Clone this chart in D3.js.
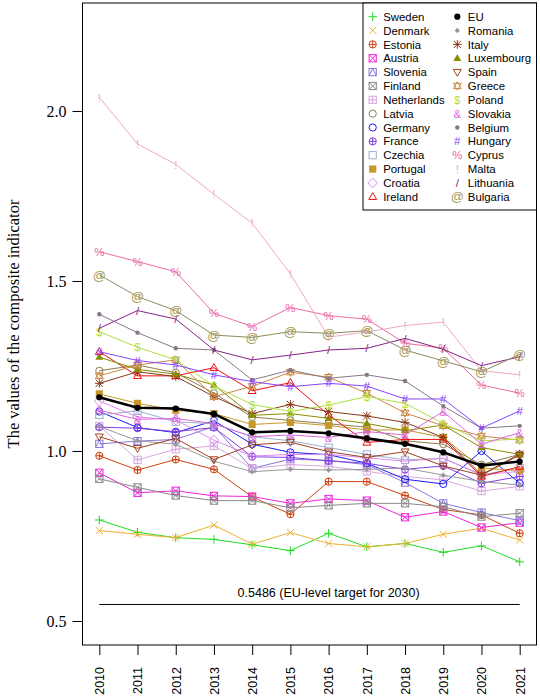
<!DOCTYPE html>
<html><head><meta charset="utf-8">
<script src="https://cdn.jsdelivr.net/npm/d3@7"></script>
<style>body{margin:0;background:#fff}svg{display:block}</style>
</head><body><svg id="c" width="540" height="700"></svg>
<script>
const years = [2010,2011,2012,2013,2014,2015,2016,2017,2018,2019,2020,2021];
const yTicks = [0.5,1.0,1.5,2.0];
const target = 0.5486;
const targetLabel = "0.5486 (EU-level target for 2030)";
const yTitle = "The values of the composite indicator";

const countries = ["Sweden","Denmark","Estonia","Austria","Slovenia","Finland","Netherlands","Latvia","Germany","France","Czechia","Portugal","Croatia","Ireland",
  "EU","Romania","Italy","Luxembourg","Spain","Greece","Poland","Slovakia","Belgium","Hungary","Cyprus","Malta","Lithuania","Bulgaria"];

const Sweden      = [0.797,0.761,0.745,0.740,0.724,0.707,0.758,0.718,0.728,0.702,0.721,0.674];
const Denmark     = [0.766,0.755,0.745,0.782,0.726,0.760,0.728,0.718,0.728,0.755,0.773,0.738];
const Estonia     = [0.986,0.944,0.975,0.946,0.865,0.814,0.910,0.910,0.869,0.828,0.812,0.758];
const Austria     = [0.936,0.877,0.883,0.868,0.866,0.846,0.859,0.854,0.805,0.822,0.775,0.789];
const Slovenia    = [1.021,1.029,1.034,1.072,0.949,0.976,0.972,0.960,0.907,0.846,0.819,0.795];
const Finland     = [0.918,0.893,0.869,0.854,0.854,0.833,0.840,0.846,0.846,0.836,0.807,0.817];
const Netherlands = [1.074,0.974,1.005,1.015,0.949,0.960,0.955,0.940,0.925,0.915,0.882,0.896];
const Latvia      = [1.236,1.253,1.230,1.170,1.100,1.090,1.080,1.070,1.030,1.020,0.960,0.990];
const Germany     = [1.116,1.069,1.054,1.089,1.020,0.996,0.989,0.964,0.917,0.903,1.000,0.905];
const France      = [1.070,1.067,1.057,1.069,0.983,0.981,0.971,0.964,0.946,0.956,0.905,0.925];
const Czechia     = [1.106,1.118,1.086,1.080,1.042,1.030,1.010,0.990,0.974,0.978,0.930,0.950];
const Portugal    = [1.168,1.140,1.120,1.110,1.078,1.084,1.075,1.062,1.062,1.040,0.950,0.942];
const Croatia     = [1.147,1.100,1.091,1.032,0.985,0.990,0.990,0.980,0.970,0.979,0.930,0.940];
const Ireland     = [1.292,1.221,1.221,1.245,1.177,1.201,1.106,1.025,1.034,1.034,0.925,0.954];
const EU          = [1.158,1.127,1.125,1.109,1.055,1.059,1.052,1.037,1.021,0.996,0.957,0.969];
const Romania     = [1.072,1.030,1.020,0.970,0.939,0.946,0.944,0.946,0.950,0.929,0.910,0.900];
const Italy       = [1.199,1.233,1.219,1.160,1.110,1.137,1.116,1.103,1.084,1.040,0.930,0.991];
const Luxembourg  = [1.276,1.240,1.226,1.194,1.105,1.110,1.096,1.081,1.060,1.076,1.010,0.990];
const Spain       = [1.042,1.008,1.037,0.975,1.018,1.026,0.998,0.981,0.998,0.956,0.929,0.988];
const Greece      = [1.221,1.253,1.268,1.160,1.190,1.232,1.217,1.170,1.112,1.074,1.044,1.032];
const Poland      = [1.351,1.305,1.268,1.191,1.137,1.116,1.135,1.160,1.140,1.081,1.030,1.035];
const Slovakia    = [1.120,1.093,1.096,1.080,1.042,1.047,1.040,1.057,1.047,1.116,1.020,1.054];
const Belgium     = [1.402,1.348,1.302,1.297,1.209,1.238,1.214,1.224,1.206,1.132,1.067,1.074];
const Hungary     = [1.292,1.266,1.253,1.224,1.204,1.189,1.199,1.191,1.153,1.153,1.067,1.118];
const Cyprus      = [1.586,1.557,1.527,1.405,1.366,1.422,1.398,1.388,1.317,1.302,1.194,1.170];
const Malta       = [2.040,1.903,1.843,1.755,1.670,1.521,1.335,1.350,1.369,1.379,1.236,1.224];
const Lithuania   = [1.361,1.413,1.388,1.297,1.268,1.282,1.297,1.302,1.331,1.299,1.251,1.277];
const Bulgaria    = [1.518,1.454,1.413,1.341,1.334,1.351,1.346,1.354,1.297,1.265,1.233,1.284];

const values = {Sweden,Denmark,Estonia,Austria,Slovenia,Finland,Netherlands,Latvia,Germany,France,Czechia,Portugal,Croatia,Ireland,
  EU,Romania,Italy,Luxembourg,Spain,Greece,Poland,Slovakia,Belgium,Hungary,Cyprus,Malta,Lithuania,Bulgaria};

const colors = {Sweden:"#22dd22",Denmark:"#f0b030",Estonia:"#cc4411",Austria:"#ee22dd",Slovenia:"#8877dd",Finland:"#888888",
  Netherlands:"#d8a8e0",Latvia:"#8b7d4b",Germany:"#1a1aee",France:"#7f3fe0",Czechia:"#9ab0c8",Portugal:"#c8982a",Croatia:"#dd88ee",
  Ireland:"#ee1111",EU:"#000000",Romania:"#999999",Italy:"#8b3a1a",Luxembourg:"#8b8b00",Spain:"#a04020",Greece:"#c88844",
  Poland:"#b0e040",Slovakia:"#dd66dd",Belgium:"#887788",Hungary:"#8844ff",Cyprus:"#ee6aa7",Malta:"#f0a8c0",Lithuania:"#882288",Bulgaria:"#8b8b60"};

const symbols = {Sweden:"plus",Denmark:"cross",Estonia:"circleplus",Austria:"squarecross",Slovenia:"squaretri",Finland:"squarecross",
  Netherlands:"squareplus",Latvia:"circle",Germany:"circle",France:"circleplus",Czechia:"square",Portugal:"filledsquare",Croatia:"diamond",
  Ireland:"triangle",EU:"dot",Romania:"smalldiamond",Italy:"asterisk",Luxembourg:"filledtriangle",Spain:"downtriangle",Greece:"star6",
  Poland:"$",Slovakia:"&",Belgium:"smalldot",Hungary:"#",Cyprus:"%",Malta:"!",Lithuania:"/",Bulgaria:"@"};

const svg = d3.select("#c");
const L = 82.5, R = 536.5, T = 3, B = 645;
const x = d3.scaleLinear().domain([2010-0.44, 2021+0.44]).range([L, R]);
const y = d3.scaleLinear().domain([0.4294, 2.3176]).range([B, T]);

// axes
const ya = svg.append("g").attr("transform",`translate(${L},0)`)
  .call(d3.axisLeft(y).tickValues(yTicks).tickFormat(d3.format(".1f")).tickSize(10).tickPadding(6));
ya.select(".domain").remove();
ya.selectAll("line").attr("stroke","#000");
ya.selectAll("text").attr("font-family","'Liberation Serif',serif").attr("font-size",16).attr("fill","#000");

const xa = svg.append("g").attr("transform",`translate(0,${B})`)
  .call(d3.axisBottom(x).tickValues(years).tickFormat(d3.format("d")).tickSize(10));
xa.select(".domain").remove();
xa.selectAll("line").attr("stroke","#000");
xa.selectAll("text").attr("font-family","'Liberation Sans',Arial,sans-serif").attr("font-size",12.5).attr("fill","#000")
  .attr("transform","rotate(-90)").attr("x",-22).attr("y",0).attr("dy","0.35em").attr("text-anchor","end");

svg.append("text").attr("transform",`translate(19,${(T+B)/2}) rotate(-90)`).attr("text-anchor","middle")
  .attr("font-family","'Liberation Serif',serif").attr("font-size",16.5).text(yTitle);

// target
svg.append("line").attr("x1",x(2010)).attr("x2",x(2021)).attr("y1",y(target)).attr("y2",y(target)).attr("stroke","#000").attr("stroke-width",1);
svg.append("text").attr("x",x(2016)).attr("y",y(target)-7).attr("text-anchor","middle")
  .attr("font-family","'Liberation Sans',Arial,sans-serif").attr("font-size",12.5).text(targetLabel);

function drawSymbol(g, type, col, s) {
  s = s || 3.6;
  const st = g => g.attr("fill","none").attr("stroke",col).attr("stroke-width",1);
  const tri = (k) => `M0,${-s*1.15*k}L${s*1.1},${s*0.75*k}L${-s*1.1},${s*0.75*k}Z`;
  switch(type){
    case "plus": st(g.append("path").attr("d",`M${-s*1.2},0H${s*1.2}M0,${-s*1.2}V${s*1.2}`)); break;
    case "cross": st(g.append("path").attr("d",`M${-s},${-s}L${s},${s}M${-s},${s}L${s},${-s}`)); break;
    case "circleplus": st(g.append("circle").attr("r",s)); st(g.append("path").attr("d",`M${-s},0H${s}M0,${-s}V${s}`)); break;
    case "squarecross": st(g.append("rect").attr("x",-s).attr("y",-s).attr("width",2*s).attr("height",2*s));
      st(g.append("path").attr("d",`M${-s},${-s}L${s},${s}M${-s},${s}L${s},${-s}`)); break;
    case "squaretri": st(g.append("rect").attr("x",-s).attr("y",-s).attr("width",2*s).attr("height",2*s));
      st(g.append("path").attr("d",`M${-s},${s}L0,${-s}L${s},${s}`)); break;
    case "squareplus": st(g.append("rect").attr("x",-s).attr("y",-s).attr("width",2*s).attr("height",2*s));
      st(g.append("path").attr("d",`M${-s},0H${s}M0,${-s}V${s}`)); break;
    case "circle": st(g.append("circle").attr("r",s)); break;
    case "square": st(g.append("rect").attr("x",-s).attr("y",-s).attr("width",2*s).attr("height",2*s)); break;
    case "filledsquare": g.append("rect").attr("x",-s).attr("y",-s).attr("width",2*s).attr("height",2*s).attr("fill",col); break;
    case "diamond": st(g.append("path").attr("d",`M0,${-s*1.35}L${s*1.35},0L0,${s*1.35}L${-s*1.35},0Z`)); break;
    case "triangle": st(g.append("path").attr("d",tri(1))); break;
    case "downtriangle": st(g.append("path").attr("d",tri(-1))); break;
    case "filledtriangle": g.append("path").attr("d",tri(1)).attr("fill",col); break;
    case "star6": st(g.append("path").attr("d",tri(1))); st(g.append("path").attr("d",tri(-1))); break;
    case "dot": g.append("circle").attr("r",3.1).attr("fill",col); break;
    case "smalldot": g.append("circle").attr("r",2.2).attr("fill",col); break;
    case "smalldiamond": g.append("path").attr("d",`M0,${-s*0.75}L${s*0.75},0L0,${s*0.75}L${-s*0.75},0Z`).attr("fill",col); break;
    case "asterisk": st(g.append("path").attr("d",`M${-s*1.2},0H${s*1.2}M0,${-s*1.2}V${s*1.2}M${-s},${-s}L${s},${s}M${-s},${s}L${s},${-s}`)); break;
    default:
      g.append("text").attr("text-anchor","middle").attr("dy","0.36em").attr("font-family","'Liberation Sans',Arial,sans-serif")
        .attr("font-size", type==="@" ? 13 : 11.5).attr("fill", type==="@" ? "#a89a58" : col).text(type);
  }
}

const line = d3.line().x((d,i)=>x(years[i])).y(d=>y(d));
const order = countries.filter(c=>c!=="EU").concat(["EU"]);
order.forEach(c=>{
  const g = svg.append("g");
  g.append("path").attr("d",line(values[c])).attr("fill","none").attr("stroke",colors[c]).attr("stroke-width", c==="EU"?2.6:1);
  values[c].forEach((v,i)=>{
    const sg = g.append("g").attr("transform",`translate(${x(years[i])},${y(v)})`);
    drawSymbol(sg, symbols[c], colors[c]);
  });
});

// plot box
svg.append("rect").attr("x",L).attr("y",T).attr("width",R-L).attr("height",B-T).attr("fill","none").attr("stroke","#000").attr("stroke-width",1);

// legend
const lg = svg.append("g");
const lx0 = 363, ly0 = 3, lw = R-363, lh = 207;
lg.append("rect").attr("x",lx0).attr("y",ly0).attr("width",lw).attr("height",lh).attr("fill","#fff").attr("stroke","#000").attr("stroke-width",1);
countries.forEach((c,i)=>{
  const col = Math.floor(i/14), row = i%14;
  const cy = 16.7 + row*13.85;
  const sx = col===0 ? 372.7 : 457.3;
  const sg = lg.append("g").attr("transform",`translate(${sx},${cy})`);
  drawSymbol(sg, symbols[c], colors[c]);
  lg.append("text").attr("x", sx+10.5).attr("y",cy).attr("dy","0.36em").attr("font-family","'Liberation Sans',Arial,sans-serif")
    .attr("font-size",11.4).text(c);
});
</script></body></html>
